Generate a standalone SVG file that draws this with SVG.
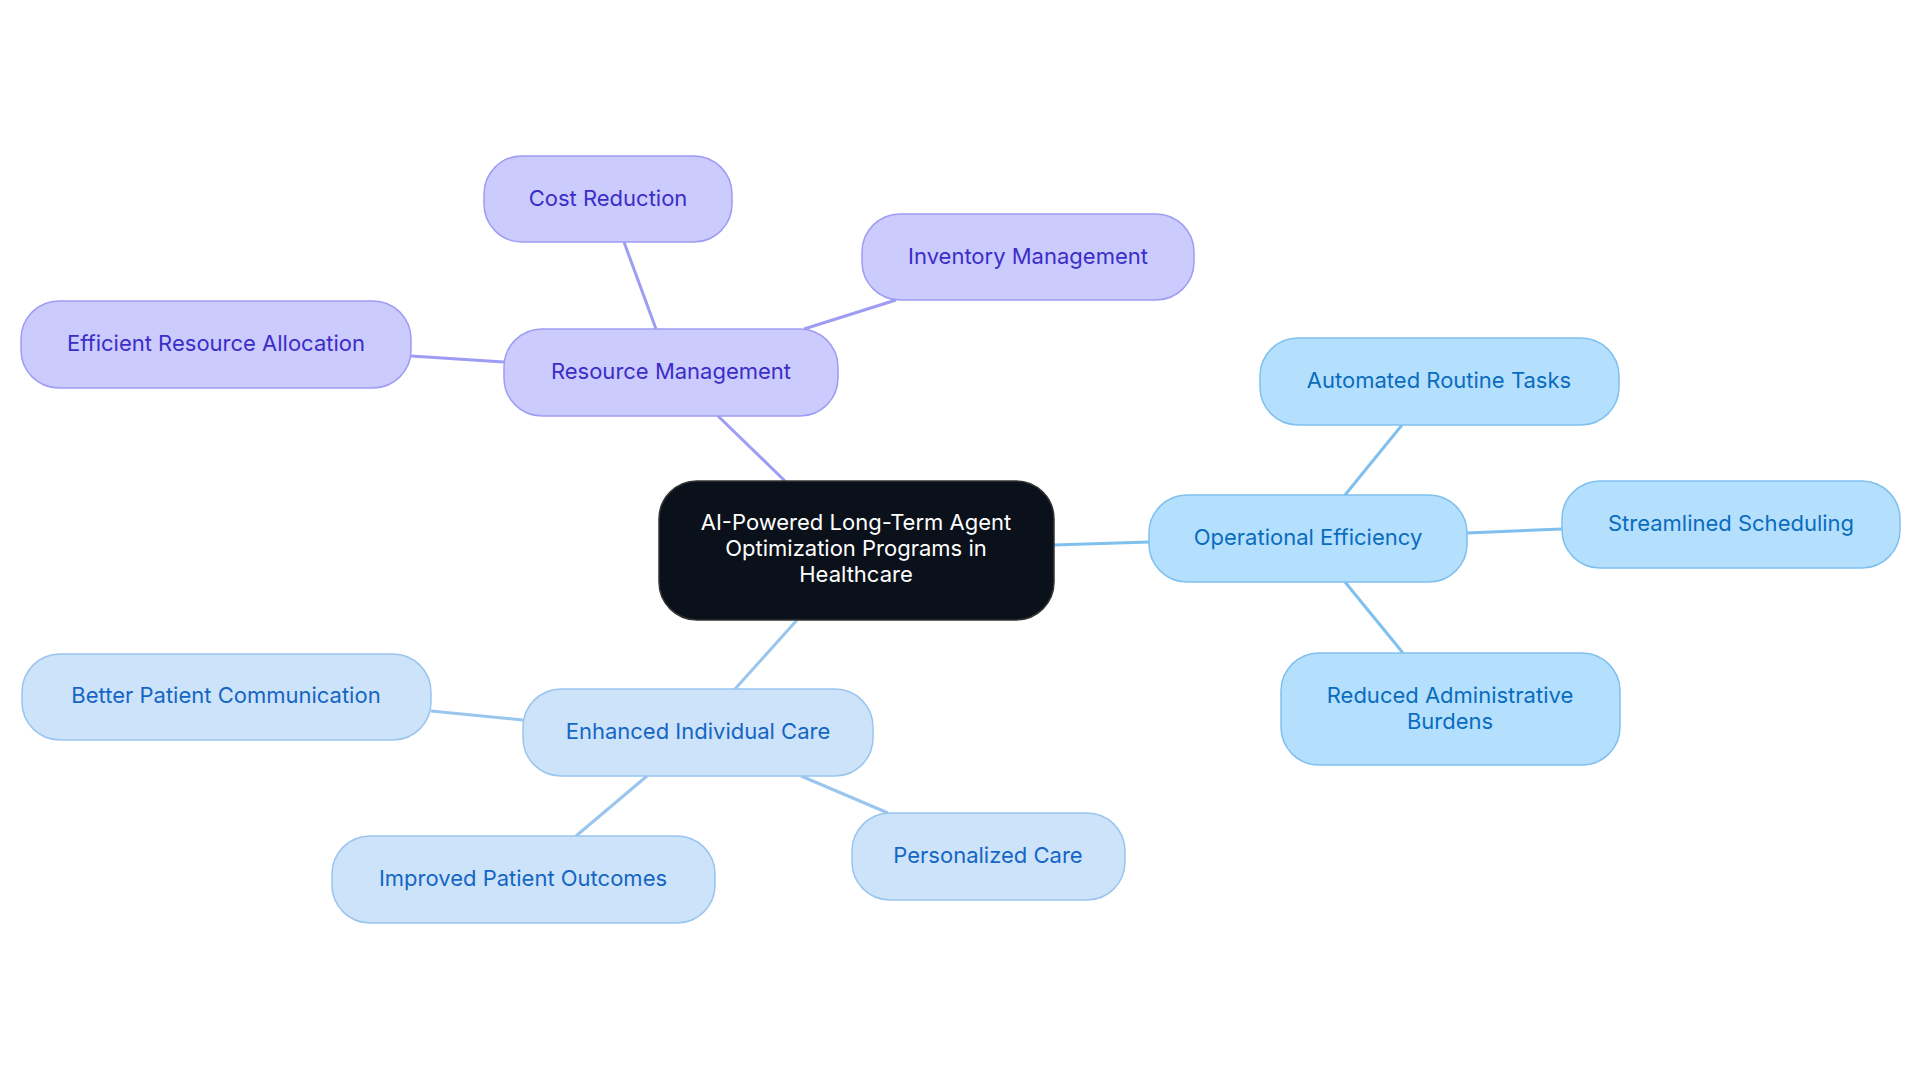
<svg xmlns="http://www.w3.org/2000/svg" width="1920" height="1083" viewBox="0 0 1920 1083">
<style>
text{font-family:Inter,"Liberation Sans",sans-serif;font-size:22px;text-anchor:middle;dominant-baseline:central}
.p rect{fill:#cbcbfd;stroke:#9e9cf3;stroke-width:1.5}.p text{fill:#3b2dc8}
.b rect{fill:#b5e0fd;stroke:#7fc0ee;stroke-width:1.5}.b text{fill:#0a6cbf}
.l rect{fill:#cde3fa;stroke:#9ac5ef;stroke-width:1.5}.l text{fill:#1466c4}
.c rect{fill:#0b111b;stroke:#333;stroke-width:1.5}.c text{fill:#fff}
#edges line{stroke-width:3}
</style>
<rect width="1920" height="1083" fill="#fff"/>
<g id="edges">
<g stroke="#9e9cf3"><line x1="718" y1="416" x2="785" y2="481"/><line x1="656" y1="329" x2="624" y2="242"/><line x1="804" y1="329" x2="896" y2="300"/><line x1="504" y1="362" x2="411" y2="356"/></g>
<g stroke="#7fc0ee"><line x1="1054" y1="545" x2="1149" y2="542"/><line x1="1345" y1="495" x2="1402" y2="425"/><line x1="1467" y1="533" x2="1562" y2="529"/><line x1="1345" y1="582" x2="1403" y2="653"/></g>
<g stroke="#9ac5ef"><line x1="797" y1="620" x2="735" y2="689"/><line x1="523" y1="720" x2="431" y2="711"/><line x1="647" y1="776" x2="576" y2="836"/><line x1="801" y1="776" x2="888" y2="813"/></g>
</g>
<g id="center" class="c"><rect x="659" y="481" width="395" height="139" rx="38"/><text x="856" y="522">AI-Powered Long-Term Agent</text><text x="856" y="548">Optimization Programs in</text><text x="856" y="574">Healthcare</text></g>
<g id="rm" class="p"><rect x="504" y="329" width="334" height="87" rx="38"/><text x="671" y="371">Resource Management</text></g>
<g id="cost" class="p"><rect x="484" y="156" width="248" height="86" rx="38"/><text x="608" y="198">Cost Reduction</text></g>
<g id="inv" class="p"><rect x="862" y="214" width="332" height="86" rx="38"/><text x="1028" y="256">Inventory Management</text></g>
<g id="era" class="p"><rect x="21" y="301" width="390" height="87" rx="38"/><text x="216" y="343">Efficient Resource Allocation</text></g>
<g id="oe" class="b"><rect x="1149" y="495" width="318" height="87" rx="38"/><text x="1308" y="537">Operational Efficiency</text></g>
<g id="auto" class="b"><rect x="1260" y="338" width="359" height="87" rx="38"/><text x="1439" y="380">Automated Routine Tasks</text></g>
<g id="stream" class="b"><rect x="1562" y="481" width="338" height="87" rx="38"/><text x="1731" y="523">Streamlined Scheduling</text></g>
<g id="red" class="b"><rect x="1281" y="653" width="339" height="112" rx="38"/><text x="1450" y="695">Reduced Administrative</text><text x="1450" y="721">Burdens</text></g>
<g id="eic" class="l"><rect x="523" y="689" width="350" height="87" rx="38"/><text x="698" y="731">Enhanced Individual Care</text></g>
<g id="bpc" class="l"><rect x="22" y="654" width="409" height="86" rx="38"/><text x="226" y="695">Better Patient Communication</text></g>
<g id="ipo" class="l"><rect x="332" y="836" width="383" height="87" rx="38"/><text x="523" y="878">Improved Patient Outcomes</text></g>
<g id="pc" class="l"><rect x="852" y="813" width="273" height="87" rx="38"/><text x="988" y="855">Personalized Care</text></g>
</svg>
